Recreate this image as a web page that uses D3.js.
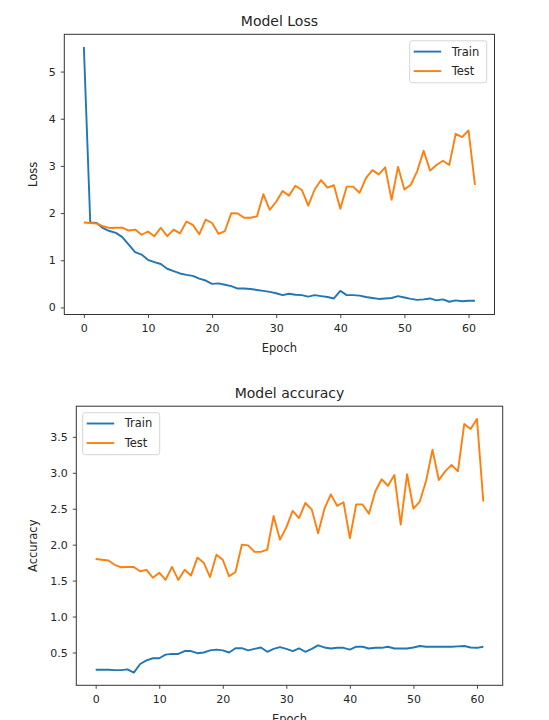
<!DOCTYPE html>
<html>
<head>
<meta charset="utf-8">
<script src="https://cdn.jsdelivr.net/npm/d3@7"></script>
<style>
  body { margin: 0; background: #fff; }
  svg text { font-family: "DejaVu Sans", sans-serif; fill: #262626; }
</style>
</head>
<body>
<div id="chart"></div>
<script>
// values, one per epoch (0..61)
var epochs = d3.range(0, 62);
var trainLoss = [5.52, 1.80, 1.79, 1.68, 1.62, 1.58, 1.49, 1.33, 1.17, 1.12,
	1.01, 0.96, 0.92, 0.82, 0.77, 0.72, 0.69, 0.67, 0.61, 0.57,
	0.50, 0.51, 0.48, 0.45, 0.40, 0.40, 0.39, 0.37, 0.35, 0.33,
	0.30, 0.26, 0.29, 0.27, 0.26, 0.23, 0.26, 0.24, 0.22, 0.19,
	0.35, 0.26, 0.26, 0.25, 0.22, 0.20, 0.18, 0.19, 0.20, 0.24,
	0.21, 0.18, 0.16, 0.17, 0.19, 0.15, 0.17, 0.12, 0.15, 0.13,
	0.14, 0.14];
var testLoss = [1.80, 1.79, 1.78, 1.72, 1.685, 1.69, 1.69, 1.63, 1.65, 1.54,
	1.61, 1.51, 1.69, 1.51, 1.65, 1.57, 1.82, 1.75, 1.55, 1.86,
	1.79, 1.56, 1.62, 2.00, 1.99, 1.90, 1.90, 1.93, 2.40, 2.07,
	2.24, 2.47, 2.37, 2.58, 2.49, 2.16, 2.50, 2.70, 2.54, 2.59,
	2.09, 2.56, 2.56, 2.43, 2.74, 2.91, 2.82, 2.97, 2.28, 2.98,
	2.50, 2.60, 2.89, 3.32, 2.90, 3.02, 3.11, 3.02, 3.68, 3.61,
	3.75, 2.60];
var trainAcc = [0.26, 0.26, 0.26, 0.255, 0.255, 0.265, 0.22, 0.34, 0.39, 0.42,
	0.42, 0.47, 0.48, 0.48, 0.52, 0.52, 0.49, 0.50, 0.53, 0.54,
	0.53, 0.50, 0.56, 0.56, 0.53, 0.55, 0.57, 0.51, 0.55, 0.575,
	0.55, 0.52, 0.556, 0.51, 0.55, 0.60, 0.57, 0.556, 0.565, 0.565,
	0.54, 0.58, 0.58, 0.556, 0.565, 0.565, 0.58, 0.556, 0.556, 0.556,
	0.57, 0.59, 0.58, 0.58, 0.58, 0.58, 0.58, 0.585, 0.59, 0.57,
	0.565, 0.58];
// the accuracy plot's "Test" line is the same curve as the loss plot's
var testAcc = testLoss;

var xTicks = [0, 10, 20, 30, 40, 50, 60];
var lossTicks = [0, 1, 2, 3, 4, 5];
var accTicks = [0.5, 1.0, 1.5, 2.0, 2.5, 3.0, 3.5];
var seriesNames = ["Train", "Test"];
var colors = ["#1f77b4", "#ff7f0e"];

var W = 549, H = 720;
var svg = d3.select("#chart").append("svg")
	.attr("width", W)
	.attr("height", H);

var panels = [
	{title: "Model Loss", ylabel: "Loss", series: [trainLoss, testLoss], yticks: lossTicks, fmt: d3.format("d"),
		left: 64.3, right: 494.5, top: 34.3, bottom: 314.5, legend: "right"},
	{title: "Model accuracy", ylabel: "Accuracy", series: [trainAcc, testAcc], yticks: accTicks, fmt: d3.format(".1f"),
		left: 76.3, right: 502.7, top: 406.2, bottom: 685.3, legend: "left"}
];

panels.forEach(function(p) {
	var g = svg.append("g");

	// matplotlib style 5% margins
	var xpad = (epochs[epochs.length-1] - epochs[0]) * 0.05;
	var x = d3.scaleLinear()
		.domain([epochs[0] - xpad, epochs[epochs.length-1] + xpad])
		.range([p.left, p.right]);
	var all = p.series[0].concat(p.series[1]);
	var ext = d3.extent(all);
	var ypad = (ext[1] - ext[0]) * 0.05;
	var y = d3.scaleLinear()
		.domain([ext[0] - ypad, ext[1] + ypad])
		.range([p.bottom, p.top]);

	var line = d3.line()
		.x(function(d, i) { return x(epochs[i]); })
		.y(function(d) { return y(d); });

	p.series.forEach(function(s, k) {
		g.append("path")
			.datum(s)
			.attr("fill", "none")
			.attr("stroke", colors[k])
			.attr("stroke-width", 1.9)
			.attr("stroke-linejoin", "round")
			.attr("d", line);
	});

	var xa = g.append("g")
		.attr("transform", "translate(0," + p.bottom + ")")
		.call(d3.axisBottom(x).tickValues(xTicks).tickSize(3.5).tickPadding(6.5).tickFormat(d3.format("d")));
	var ya = g.append("g")
		.attr("transform", "translate(" + p.left + ",0)")
		.call(d3.axisLeft(y).tickValues(p.yticks).tickSize(3.5).tickPadding(5).tickFormat(p.fmt));
	[xa, ya].forEach(function(a) {
		a.select(".domain").remove();
		a.selectAll("line").attr("stroke", "#333").attr("stroke-width", 0.9);
		a.selectAll("text").style("font-size", "11px").attr("fill", "#262626");
	});

	g.append("rect")
		.attr("x", p.left)
		.attr("y", p.top)
		.attr("width", p.right - p.left)
		.attr("height", p.bottom - p.top)
		.attr("fill", "none")
		.attr("stroke", "#333")
		.attr("stroke-width", 1);

	g.append("text")
		.attr("x", (p.left + p.right) / 2)
		.attr("y", p.top - 8.5)
		.attr("text-anchor", "middle")
		.style("font-size", "14px")
		.text(p.title);

	g.append("text")
		.attr("x", (p.left + p.right) / 2)
		.attr("y", p.bottom + 37.5)
		.attr("text-anchor", "middle")
		.style("font-size", "11.5px")
		.text("Epoch");

	g.append("text")
		.attr("transform", "translate(" + 37 + "," + ((p.top + p.bottom) / 2) + ") rotate(-90)")
		.attr("text-anchor", "middle")
		.style("font-size", "11.5px")
		.text(p.ylabel);

	// legend
	var lw = 77, lh = 42;
	var lx = p.legend == "right" ? p.right - 7.8 - lw : p.left + 6.4;
	var ly = p.top + 6.5;
	var leg = g.append("g").attr("transform", "translate(" + lx + "," + ly + ")");
	leg.append("rect")
		.attr("width", lw)
		.attr("height", lh)
		.attr("rx", 2.5)
		.attr("fill", "#fff")
		.attr("fill-opacity", 0.8)
		.attr("stroke", "#d6d6d6")
		.attr("stroke-width", 1);
	seriesNames.forEach(function(name, k) {
		var yy = 10.8 + k * 19.5;
		leg.append("line")
			.attr("x1", 4).attr("x2", 31.5)
			.attr("y1", yy).attr("y2", yy)
			.attr("stroke", colors[k])
			.attr("stroke-width", 1.9);
		leg.append("text")
			.attr("x", 42)
			.attr("y", yy + 4)
			.style("font-size", "11.5px")
			.text(name);
	});
});
</script>
</body>
</html>
